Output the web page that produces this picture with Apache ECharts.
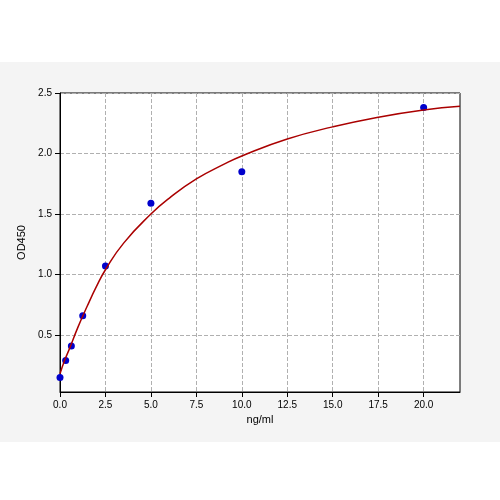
<!DOCTYPE html><html><head><meta charset="utf-8"><script src="https://cdn.jsdelivr.net/npm/echarts@6/dist/echarts.min.js"></script></head><body style="margin:0"><div id="c" style="width:500px;height:500px"></div><script>
const ptsX=[0,0.3125,0.625,1.25,2.5,5,10,20];
const ptsY=[0.15,0.29,0.41,0.66,1.07,1.59,1.85,2.38];
const curveX=[0,0.25,0.5,1,1.5,2,2.5,3.5,5,6,7.5,9,10,12.5,15,17.5,20,22];
const curveY=[0.18,0.29,0.38,0.57,0.74,0.90,1.04,1.26,1.50,1.63,1.79,1.91,1.98,2.12,2.22,2.30,2.36,2.39];
const xTicks=[0,2.5,5,7.5,10,12.5,15,17.5,20];
const yTicks=[0.5,1.0,1.5,2.0,2.5];
const c=echarts.init(document.getElementById('c'));
const split={show:true,lineStyle:{type:'dashed',color:'#b0b0b0'}};
c.setOption({animation:false,backgroundColor:'#fff',
graphic:[{type:'rect',shape:{x:0,y:62,width:500,height:380},style:{fill:'#f4f4f4'},z:-10}],
grid:{left:60,right:40,top:93,bottom:108,show:true,backgroundColor:'#fff',borderColor:'#000',borderWidth:1},
xAxis:{type:'value',min:0,max:22,name:'ng/ml',nameLocation:'middle',nameGap:22,nameTextStyle:{color:'#000',fontSize:11},
axisLine:{lineStyle:{color:'#000'}},axisTick:{customValues:xTicks,lineStyle:{color:'#000'}},
axisLabel:{customValues:xTicks,color:'#000',fontSize:10,formatter:v=>v.toFixed(1)},splitLine:split},
yAxis:{type:'value',min:0.03,max:2.5,name:'OD450',nameLocation:'middle',nameGap:30,nameTextStyle:{color:'#000',fontSize:11},
axisLine:{show:true,lineStyle:{color:'#000'}},axisTick:{show:true,customValues:yTicks,lineStyle:{color:'#000'}},
axisLabel:{customValues:yTicks,color:'#000',fontSize:10,formatter:v=>v.toFixed(1)},splitLine:split},
series:[{type:'line',data:curveX.map((x,i)=>[x,curveY[i]]),smooth:true,showSymbol:false,lineStyle:{color:'#aa0000',width:1.5},z:3},
{type:'scatter',data:ptsX.map((x,i)=>[x,ptsY[i]]),symbolSize:7,itemStyle:{color:'#0000cc',opacity:1},z:2}]});
</script></body></html>
